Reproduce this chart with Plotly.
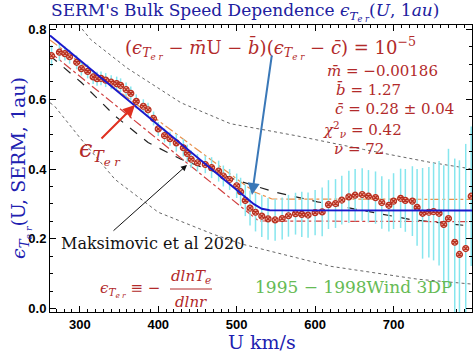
import plotly.graph_objects as go

# ---------------- data ----------------
speed = [264, 274, 281, 287, 296, 302, 310, 317, 322, 327, 333, 340, 347, 352, 359,
         365, 372, 381, 387, 394, 400, 408, 415, 423, 432, 437, 442, 450, 460, 468,
         477, 483, 491, 500, 505, 511, 517, 524, 532, 540, 549, 558, 566, 575, 583,
         591, 600, 609, 617, 626, 634, 643, 651, 660, 668, 677, 685, 694, 700, 709,
         715, 724, 730, 737, 745, 751, 758, 764, 770, 778, 784, 792, 799]
eps = [0.725, 0.735, 0.731, 0.722, 0.706, 0.688, 0.680, 0.664, 0.659, 0.660, 0.655, 0.649,
       0.645, 0.640, 0.628, 0.617, 0.594, 0.580, 0.570, 0.545, 0.515, 0.496, 0.487, 0.475,
       0.461, 0.445, 0.428, 0.418, 0.413, 0.404, 0.394, 0.380, 0.370, 0.352, 0.335, 0.310,
       0.288, 0.276, 0.265, 0.257, 0.254, 0.258, 0.266, 0.272, 0.270, 0.268, 0.275, 0.277,
       0.298, 0.301, 0.311, 0.320, 0.325, 0.327, 0.322, 0.318, 0.304, 0.296, 0.308, 0.316,
       0.310, 0.308, 0.290, 0.273, 0.276, 0.278, 0.273, 0.241, 0.258, 0.190, 0.155, 0.172,
       0.322]
err = [0.03, 0.025, 0.02, 0.02, 0.02, 0.02, 0.02, 0.02, 0.02, 0.02, 0.02, 0.02,
       0.02, 0.02, 0.02, 0.02, 0.02, 0.02, 0.02, 0.02, 0.02, 0.02, 0.02, 0.025,
       0.025, 0.025, 0.025, 0.025, 0.025, 0.03, 0.03, 0.03, 0.03, 0.035, 0.04, 0.045,
       0.05, 0.055, 0.06, 0.06, 0.06, 0.06, 0.06, 0.06, 0.065, 0.065, 0.065, 0.07,
       0.07, 0.07, 0.07, 0.075, 0.075, 0.075, 0.075, 0.075, 0.075, 0.075, 0.08, 0.085,
       0.09, 0.1, 0.11, 0.13, 0.13, 0.14, 0.15, 0.17, 0.2, 0.24, 0.27, 0.3,
       0.2]

fit_u = [262, 522, 532, 542, 800]
fit_e = [0.783, 0.299, 0.286, 0.282, 0.281]

upper_u = [262, 522, 545, 800]
upper_e = [0.770, 0.335, 0.314, 0.313]
lower_u = [262, 515, 528, 800]
lower_e = [0.735, 0.276, 0.251, 0.249]

maks_u = [262, 302, 345, 387, 429, 500, 547, 603, 654, 722, 800]
maks_e = [0.725, 0.648, 0.552, 0.476, 0.428, 0.368, 0.335, 0.306, 0.284, 0.255, 0.236]

dot_hi_u = [298, 314, 360, 429, 492, 577, 662, 747, 800]
dot_hi_e = [0.815, 0.771, 0.690, 0.590, 0.530, 0.495, 0.456, 0.419, 0.400]
dot_lo_u = [262, 268, 300, 345, 400, 470, 508, 620, 731, 800]
dot_lo_e = [0.590, 0.580, 0.490, 0.370, 0.276, 0.213, 0.184, 0.121, 0.084, 0.070]

x_ticks = [300, 400, 500, 600, 700]
y_ticks = [0.0, 0.2, 0.4, 0.6, 0.8]

# ---------------- figure ----------------
W, H = 474, 354
L, R, T, B = 50, 2, 25, 42
PW, PH = W - L - R, H - T - B


def px(x):
    return (x - L) / PW


def py(y):
    return (H - B - y) / PH


fig = go.Figure()

fig.add_trace(go.Scatter(x=dot_hi_u, y=dot_hi_e, mode="lines",
                         line=dict(color="#666666", width=1, dash="dot"), hoverinfo="skip"))
fig.add_trace(go.Scatter(x=dot_lo_u, y=dot_lo_e, mode="lines",
                         line=dict(color="#666666", width=1, dash="dot"), hoverinfo="skip"))
fig.add_trace(go.Scatter(x=maks_u, y=maks_e, mode="lines",
                         line=dict(color="#222222", width=1.2, dash="dash"), hoverinfo="skip"))
fig.add_trace(go.Scatter(x=upper_u, y=upper_e, mode="lines",
                         line=dict(color="#e8904a", width=1.2, dash="dashdot"), hoverinfo="skip"))
fig.add_trace(go.Scatter(x=lower_u, y=lower_e, mode="lines",
                         line=dict(color="#d04040", width=1.2, dash="dashdot"), hoverinfo="skip"))

fig.add_trace(go.Scatter(
    x=speed, y=eps, mode="markers",
    marker=dict(symbol="circle-x", size=6, color="#eeb0a0",
                line=dict(color="#b83020", width=1.2)),
    error_y=dict(type="data", array=err, visible=True, color="#86e6ee",
                 thickness=1.5, width=0),
))

fig.add_trace(go.Scatter(x=fit_u, y=fit_e, mode="lines",
                         line=dict(color="#1a1acc", width=2), hoverinfo="skip"))

serif = "DejaVu Serif"
brown = "#b22a2a"
ter = "<i>ϵ<sub>T<sub>e r</sub></sub></i>"

ann = []


def text(x, y, s, size, color, xanchor="center", angle=0):
    ann.append(dict(x=px(x), y=py(y), xref="paper", yref="paper", text=s,
                    showarrow=False, xanchor=xanchor, yanchor="middle",
                    textangle=angle, font=dict(family=serif, size=size, color=color)))


text(245, 12, "SERM's Bulk Speed Dependence " + ter + "(<i>U</i>, 1<i>au</i>)", 17, "#2020a0")
text(20, 168, ter + "(U, SERM, 1au)", 19, "#2020b0", angle=-90)
text(262, 342, "U km/s", 19, "#2020b0")

text(270, 48, "(" + ter + " − <i>m̄</i>U − <i>b̄</i>)(" + ter + " − <i>c̄</i>) = 10<sup>−5</sup>", 18, brown)
text(325, 71, "<i>m̄</i> = −0.00186", 15, brown, "left")
text(334, 90, "<i>b̄</i> = 1.27", 15, brown, "left")
text(333, 109, "<i>c̄</i> = 0.28 ± 0.04", 15, brown, "left")
text(321, 129, "<i>χ</i><sup>2</sup><sub><i>ν</i></sub> = 0.42", 15, brown, "left")
text(332, 149, "<i>ν</i> = 72", 15, brown, "left")

text(100, 152, ter, 24, brown)
text(152, 243, "Maksimovic et al 2020", 16, "#111111")
text(130, 289, ter + " ≡ −", 15, brown)
text(191, 276, "<i>dlnT<sub>e</sub></i>", 15, brown)
text(191, 302, "<i>dlnr</i>", 15, brown)
text(353, 287, "1995 − 1998Wind 3DP", 17, "#66bb55")


def arrow(tx, ty, hx, hy, color, width):
    ann.append(dict(x=px(hx), y=py(hy), xref="paper", yref="paper", text="",
                    showarrow=True, ax=tx - hx, ay=ty - hy, axref="pixel", ayref="pixel",
                    arrowhead=2, arrowsize=1.2, arrowwidth=width, arrowcolor=color))


arrow(100, 140, 135, 105, "#e03020", 2)
arrow(272, 54, 252, 195, "#3a78b8", 2)
arrow(112, 232, 187, 165, "#111111", 1)

fig.update_layout(
    width=W, height=H,
    margin=dict(l=L, r=R, t=T, b=B),
    paper_bgcolor="white", plot_bgcolor="white",
    showlegend=False,
    annotations=ann,
    shapes=[dict(type="line", xref="paper", yref="paper",
                 x0=px(170), x1=px(212), y0=py(289), y1=py(289),
                 line=dict(color=brown, width=1))],
)

axis_common = dict(showline=True, linecolor="black", linewidth=1, mirror="allticks",
                   ticks="inside", tickcolor="black", showgrid=False, zeroline=False,
                   tickfont=dict(family="Liberation Sans", size=13, color="black", weight="bold"))
fig.update_xaxes(range=[262, 800], tickvals=x_ticks, ticklen=6,
                 minor=dict(dtick=10, tick0=300, ticks="inside", ticklen=3, tickcolor="black"),
                 **axis_common)
fig.update_yaxes(range=[-0.01, 0.813], tickvals=y_ticks, tickformat=".1f", ticklen=6,
                 minor=dict(dtick=0.05, tick0=0, ticks="inside", ticklen=3, tickcolor="black"),
                 **axis_common)

fig.write_html("out.html")
